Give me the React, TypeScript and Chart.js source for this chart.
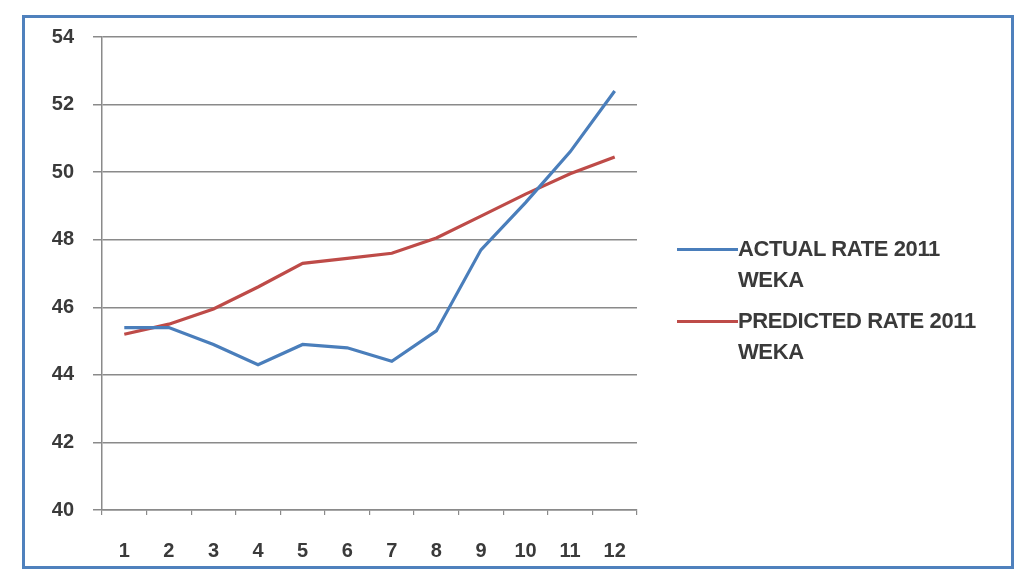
import React, { useEffect, useRef } from "react";
import { Chart, registerables } from "chart.js";

Chart.register(...registerables);

const categories = ["1", "2", "3", "4", "5", "6", "7", "8", "9", "10", "11", "12"];
const actualRate = [45.4, 45.4, 44.9, 44.3, 44.9, 44.8, 44.4, 45.3, 47.7, 49.1, 50.6, 52.4];
const predictedRate = [45.2, 45.5, 45.95, 46.6, 47.3, 47.45, 47.6, 48.05, 48.7, 49.35, 49.95, 50.45];
const seriesNames = [["ACTUAL RATE 2011", "WEKA"], ["PREDICTED RATE 2011", "WEKA"]];
const yMin = 40;
const yMax = 54;
const yStep = 2;

const BLUE = "#4A7EBB";
const RED = "#BE4B48";
const GRID = "#8a8a8a";
const TEXT = "#3a3a3a";
const FONT = "'Liberation Sans', Arial, sans-serif";

export default function App() {
  const ref = useRef<HTMLCanvasElement | null>(null);

  useEffect(() => {
    if (!ref.current) return;
    const chart = new Chart(ref.current, {
      type: "line",
      data: {
        labels: categories,
        datasets: [
          {
            label: seriesNames[0].join(" "),
            data: actualRate,
            borderColor: BLUE,
            backgroundColor: BLUE,
            borderWidth: 3.2,
            pointRadius: 0,
            tension: 0,
          },
          {
            label: seriesNames[1].join(" "),
            data: predictedRate,
            borderColor: RED,
            backgroundColor: RED,
            borderWidth: 3.2,
            pointRadius: 0,
            tension: 0,
          },
        ],
      },
      options: {
        responsive: false,
        animation: false,
        devicePixelRatio: 1,
        layout: { padding: { left: 0, right: 390, top: 37, bottom: 0 } },
        plugins: { legend: { display: false }, tooltip: { enabled: false } },
        scales: {
          x: {
            offset: true,
            grid: {
              offset: true,
              drawOnChartArea: false,
              drawTicks: true,
              tickLength: 5,
              color: GRID,
              lineWidth: 1.2,
            },
            border: { color: GRID, width: 1.5 },
            ticks: {
              color: TEXT,
              padding: 24,
              font: { family: FONT, size: 20, weight: "bold" },
              maxRotation: 0,
            },
            afterFit: (scale: any) => {
              scale.height = 60;
            },
          },
          y: {
            min: yMin,
            max: yMax,
            ticks: {
              stepSize: yStep,
              color: TEXT,
              padding: 19,
              font: { family: FONT, size: 20, weight: "bold" },
            },
            grid: {
              color: GRID,
              lineWidth: 1.5,
              tickLength: 9,
            },
            border: { color: GRID, width: 1.5 },
            afterFit: (scale: any) => {
              scale.width = 102;
            },
          },
        },
      },
    });
    return () => chart.destroy();
  }, []);

  const legendItem = (color: string, lines: string[], top: number) => (
    <div style={{ position: "absolute", left: 677, top, display: "flex", alignItems: "flex-start" }}>
      <div style={{ width: 61, height: 3, background: color, marginTop: 12 }} />
      <div
        style={{
          fontFamily: FONT,
          fontSize: 22,
          fontWeight: "bold",
          color: TEXT,
          lineHeight: "31px",
          marginTop: -3,
          letterSpacing: "-0.4px",
          whiteSpace: "nowrap",
        }}
      >
        {lines.map((l, i) => (
          <div key={i}>{l}</div>
        ))}
      </div>
    </div>
  );

  return (
    <div style={{ position: "fixed", left: 0, top: 0, width: 1027, height: 570, background: "#fff", overflow: "hidden" }}>
      <div
        style={{
          position: "absolute",
          left: 22,
          top: 15,
          width: 986,
          height: 548,
          border: "3px solid #4F81BD",
        }}
      />
      <canvas ref={ref} width={1027} height={570} style={{ position: "absolute", left: 0, top: 0 }} />
      {legendItem(BLUE, seriesNames[0], 236)}
      {legendItem(RED, seriesNames[1], 308)}
    </div>
  );
}
